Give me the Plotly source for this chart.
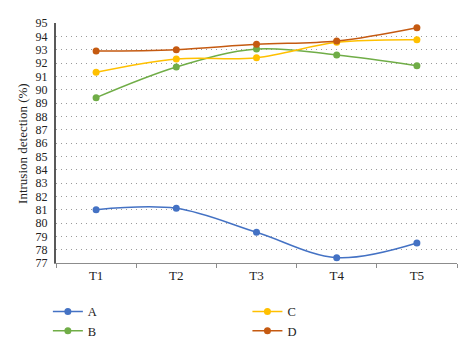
import plotly.graph_objects as go

# Test rounds on the x axis
rounds = ["T1", "T2", "T3", "T4", "T5"]

# Intrusion detection rate (%) for each method
series_a = [81.0, 81.1, 79.3, 77.4, 78.5]
series_b = [89.4, 91.7, 93.05, 92.6, 91.8]
series_c = [91.3, 92.3, 92.4, 93.55, 93.75]
series_d = [92.9, 93.0, 93.4, 93.65, 94.65]

names = ["A", "B", "C", "D"]
colors = ["#4472C4", "#70AD47", "#FFC000", "#C55A11"]
legends = ["legend", "legend", "legend2", "legend2"]

y_ticks = list(range(77, 96))

FONT = "Liberation Serif, Times New Roman, serif"

fig = go.Figure()
for name, vals, col, lg in zip(names, [series_a, series_b, series_c, series_d], colors, legends):
    fig.add_trace(go.Scatter(
        x=rounds, y=vals, name=name, mode="lines+markers",
        line=dict(color=col, width=1.5, shape="spline", smoothing=1.0),
        marker=dict(color=col, size=7),
        legend=lg,
    ))

# Legends are positioned against the whole page; margins are fixed
legend_style = dict(
    orientation="v", yanchor="top", xanchor="left",
    xref="container", yref="container",
    font=dict(family=FONT, size=12.5, color="#222"),
    bgcolor="rgba(0,0,0,0)", itemwidth=30, tracegroupgap=0,
)

fig.update_layout(
    width=474, height=350,
    margin=dict(l=56, r=17, t=23, b=87, autoexpand=False),
    paper_bgcolor="white", plot_bgcolor="white",
    font=dict(family=FONT, size=12, color="#222"),
    showlegend=True,
    legend=dict(x=0.101, y=0.152, **legend_style),
    legend2=dict(x=0.522, y=0.152, **legend_style),
    xaxis=dict(
        type="category", range=[-0.5, 4.5],
        showgrid=False, showline=True, linecolor="#8c8c8c", linewidth=1,
        ticks="outside", tickson="boundaries", ticklen=4, tickcolor="#8c8c8c",
        ticklabelstandoff=0, automargin=False,
        tickfont=dict(family=FONT, size=13, color="#222"),
    ),
    yaxis=dict(
        range=[77, 95], tickvals=y_ticks, ticktext=[str(v) for v in y_ticks],
        showgrid=True, gridcolor="#9a9a9a", griddash="1px,4px", gridwidth=1,
        showline=True, linecolor="#595959", linewidth=2,
        ticks="", zeroline=False, ticklabelstandoff=4, automargin=False,
        tickfont=dict(family=FONT, size=12, color="#222"),
    ),
    annotations=[dict(
        text="Intrusion detection (%)", textangle=-90,
        xref="paper", yref="paper", x=-0.085, y=0.5,
        xanchor="center", yanchor="middle", showarrow=False,
        font=dict(family=FONT, size=13, color="#222"),
    )],
)

fig.write_html("out.html")
